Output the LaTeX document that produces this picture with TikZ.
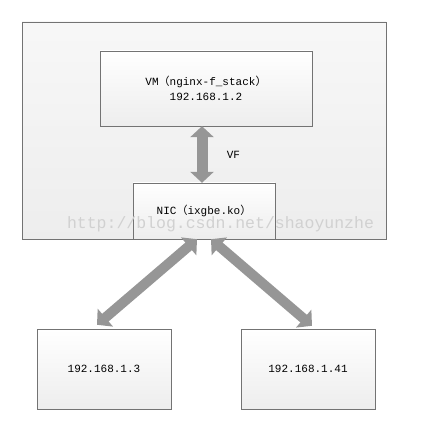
\documentclass[tikz,border=0pt]{standalone}
\usepackage{fontspec}
\setmainfont{Liberation Mono}
\newfontfamily\cjk{Noto Sans CJK SC}
\usetikzlibrary{arrows.meta,shadows}
\begin{document}
\begin{tikzpicture}[x=1pt,y=1pt,
  box/.style={draw=black!55, top color=white, bottom color=black!7,
    drop shadow={shadow xshift=1pt, shadow yshift=-1pt, fill=black!35, opacity=.5},
    font=\fontsize{11}{15}\selectfont, align=center, inner sep=0pt},
  link/.style={line width=11pt, draw=black!41,
    {Triangle[width=23pt,length=11pt]}-{Triangle[width=23pt,length=11pt]}}
]
\useasboundingbox (0,0) rectangle (423,427);
% draw the host box
\node[box, top color=black!3, bottom color=black!7, minimum width=364pt, minimum height=217pt]
  (host) at (204,296.5) {};
% draw nodes inside the host
\node[box, minimum width=212pt, minimum height=75pt] (vm) at (206,338.5)
  {VM{\cjk （}nginx-f\_stack{\cjk ）}\\192.168.1.2};
\node[box, minimum width=142pt, minimum height=56pt] (nic) at (204,216)
  {NIC{\cjk （}ixgbe.ko{\cjk ）}};
% draw the two peers
\node[box, minimum width=134pt, minimum height=80pt] (peerA) at (104,58) {192.168.1.3};
\node[box, minimum width=134pt, minimum height=80pt] (peerB) at (308,58) {192.168.1.41};

% draw links
\draw[link] ([xshift=-4pt]vm.south) -- ([xshift=-2pt]nic.north)
  node[midway, right=16pt, font=\fontsize{11}{13}\selectfont] (vf) {VF};
\draw[link, line width=10pt] ([xshift=-7pt]nic.south) -- ([xshift=-7pt,yshift=4pt]peerA.north);
\draw[link, line width=10pt] ([xshift=7pt]nic.south) -- ([xshift=4pt,yshift=3pt]peerB.north);

% watermark
\node[text=black!18, font=\fontsize{16.5}{18}\selectfont] (mark) at (220.5,203)
  {http://blog.csdn.net/shaoyunzhe};
\end{tikzpicture}
\end{document}
